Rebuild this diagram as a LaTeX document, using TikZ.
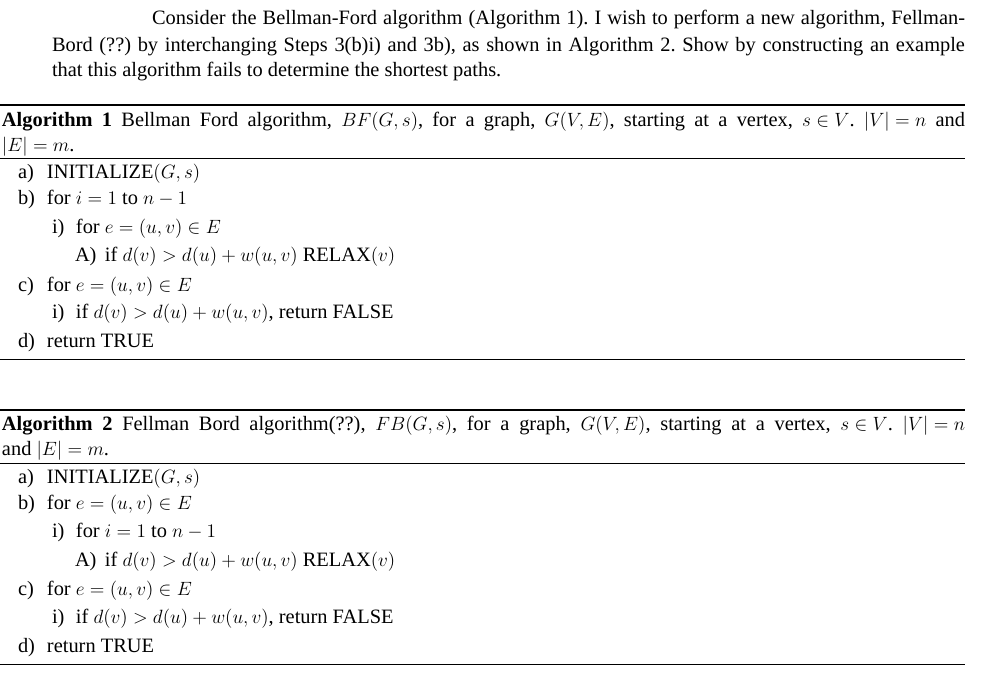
\documentclass[tikz,border=0pt]{standalone}
\usepackage{fontspec}
\setmainfont{Liberation Serif}
\newcommand{\lab}[2]{\makebox[#1][l]{#2}}
\newcommand{\mm}[1]{\mbox{$#1$}}
\begin{document}
\begin{tikzpicture}[x=0.75pt,y=-0.75pt,
  txt/.style={anchor=base west,inner sep=0pt,outer sep=0pt,font=\fontsize{15.3}{18}\selectfont\frenchspacing},
  thick rule/.style={line width=1.1pt},
  thin rule/.style={line width=0.6pt}]
\useasboundingbox (0,0) rectangle (997,693);
% intro paragraph
\node[txt] (p1) at (152,24) {\makebox[609.75pt][s]{Consider the Bellman-Ford algorithm (Algorithm 1). I wish to perform a new algorithm, Fellman-}};
\node[txt] (p2) at (52,51) {\makebox[684.75pt][s]{Bord (??) by interchanging Steps 3(b)i) and 3b), as shown in Algorithm 2. Show by constructing an example}};
\node[txt] (p3) at (52,76) {that this algorithm fails to determine the shortest paths.};
% Algorithm 1
\draw[thick rule] (0,105) -- (965,105);
\node[txt] (c1a) at (2,126) {\makebox[722.25pt][s]{\textbf{Algorithm 1} Bellman Ford algorithm, \mm{BF(G,s)}, for a graph, \mm{G(V,E)}, starting at a vertex, \mm{s\in V}. \mm{|V|=n} and}};
\node[txt] (c1b) at (2,151) {$|E|=m$.};
\draw[thin rule] (0,158) -- (965,158);
\node[txt] (a1) at (18,178) {\lab{21.75pt}{a)}INITIALIZE$(G,s)$};
\node[txt] (a2) at (18,204) {\lab{21.75pt}{b)}for $i=1$ to $n-1$};
\node[txt] (a3) at (52,233) {\lab{18pt}{i)}for $e=(u,v)\in E$};
\node[txt] (a4) at (75,261) {\lab{22.5pt}{A)}if $d(v)>d(u)+w(u,v)$ RELAX$(v)$};
\node[txt] (a5) at (18,291) {\lab{21.75pt}{c)}for $e=(u,v)\in E$};
\node[txt] (a6) at (52,318) {\lab{18pt}{i)}if $d(v)>d(u)+w(u,v)$, return FALSE};
\node[txt] (a7) at (18,347) {\lab{21.75pt}{d)}return TRUE};
\draw[thin rule] (0,359) -- (965,359);
% Algorithm 2
\draw[thick rule] (0,410) -- (965,410);
\node[txt] (c2a) at (2,430) {\makebox[722.25pt][s]{\textbf{Algorithm 2} Fellman Bord algorithm(??), \mm{FB(G,s)}, for a graph, \mm{G(V,E)}, starting at a vertex, \mm{s\in V}. \mm{|V|=n}}};
\node[txt] (c2b) at (2,455) {and $|E|=m$.};
\draw[thin rule] (0,463) -- (965,463);
\node[txt] (b1) at (18,483) {\lab{21.75pt}{a)}INITIALIZE$(G,s)$};
\node[txt] (b2) at (18,509) {\lab{21.75pt}{b)}for $e=(u,v)\in E$};
\node[txt] (b3) at (52,537) {\lab{18pt}{i)}for $i=1$ to $n-1$};
\node[txt] (b4) at (75,566) {\lab{22.5pt}{A)}if $d(v)>d(u)+w(u,v)$ RELAX$(v)$};
\node[txt] (b5) at (18,595) {\lab{21.75pt}{c)}for $e=(u,v)\in E$};
\node[txt] (b6) at (52,623) {\lab{18pt}{i)}if $d(v)>d(u)+w(u,v)$, return FALSE};
\node[txt] (b7) at (18,652) {\lab{21.75pt}{d)}return TRUE};
\draw[thin rule] (0,664) -- (965,664);
\end{tikzpicture}
\end{document}
